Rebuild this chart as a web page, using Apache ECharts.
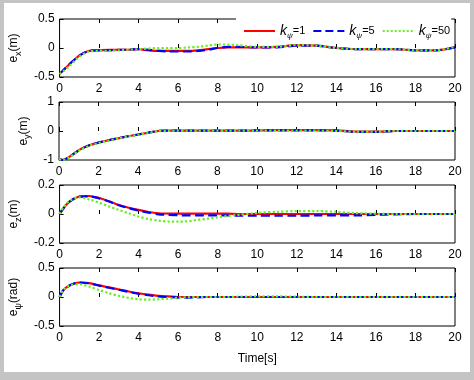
<!DOCTYPE html>
<html><head><meta charset="utf-8">
<script src="https://cdn.jsdelivr.net/npm/echarts@6/dist/echarts.min.js"></script>
<style>html,body{margin:0;padding:0;background:#c4c4c4;}#c{width:474px;height:380px;}</style>
</head><body><div id="c"></div>
<script>
// ---- data ----
const time = [0,0.2,0.5,1,1.5,2,2.5,3,3.5,4,4.5,5,5.5,6,6.5,7,7.5,8,8.5,9,10,11,12,13,14,15,16,17,18,19,20];
const seriesNames = ['kψ=1','kψ=5','kψ=50'];
const xTicks = [0,2,4,6,8,10,12,14,16,18,20];

const ex_k1  = [-0.45,-0.38,-0.28,-0.13,-0.05,-0.04,-0.03,-0.03,-0.03,-0.02,-0.04,-0.05,-0.05,-0.05,-0.05,-0.04,-0.02,0.0,0.01,0.01,0.01,0.02,0.05,0.04,0.0,-0.02,-0.02,-0.02,-0.04,-0.04,0.01];
const ex_k5  = [-0.45,-0.38,-0.28,-0.13,-0.05,-0.04,-0.04,-0.03,-0.03,-0.02,-0.03,-0.05,-0.06,-0.06,-0.06,-0.05,-0.03,0.0,0.02,0.02,0.01,0.01,0.04,0.04,0.0,-0.02,-0.02,-0.02,-0.04,-0.04,0.01];
const ex_k50 = [-0.45,-0.40,-0.31,-0.15,-0.06,-0.05,-0.05,-0.04,-0.03,-0.02,-0.01,0.0,0.0,0.0,0.01,0.02,0.04,0.06,0.06,0.05,0.02,0.02,0.05,0.04,0.0,-0.02,-0.02,-0.02,-0.04,-0.04,0.02];

const ey_k1  = [-0.97,-1.0,-0.9,-0.66,-0.5,-0.4,-0.32,-0.25,-0.18,-0.12,-0.06,0.0,0.01,0.01,0.01,0.01,0.01,0.01,0.01,0.01,0.02,0.03,0.03,0.03,0.02,-0.02,-0.02,0.0,0.0,0.0,0.0];
const ey_k5  = [-0.97,-1.0,-0.9,-0.67,-0.5,-0.4,-0.32,-0.25,-0.18,-0.12,-0.06,0.0,0.01,0.01,0.01,0.01,0.01,0.01,0.01,0.01,0.02,0.02,0.02,0.02,0.01,-0.03,-0.03,0.0,0.0,0.0,0.0];
const ey_k50 = [-0.97,-1.0,-0.92,-0.68,-0.52,-0.42,-0.33,-0.26,-0.19,-0.13,-0.07,-0.01,0.0,0.01,0.01,0.01,0.01,0.01,0.01,0.01,0.01,0.01,0.01,0.01,0.0,-0.02,-0.02,0.0,0.0,0.0,0.0];

const ez_k1  = [0,0.04,0.085,0.12,0.124,0.11,0.088,0.062,0.043,0.028,0.014,0.005,0.003,0.002,0.002,0.002,0.002,0.002,0.002,0.0,0.0,0.0,0.0,0.0,0.0,0.0,0.0,0.0,0.0,0.0,0.0];
const ez_k5  = [0,0.04,0.085,0.12,0.122,0.108,0.086,0.06,0.04,0.024,0.01,-0.002,-0.006,-0.008,-0.01,-0.01,-0.01,-0.01,-0.01,-0.012,-0.012,-0.012,-0.012,-0.01,-0.01,-0.01,-0.006,-0.002,0.0,0.0,0.0];
const ez_k50 = [0,0.045,0.09,0.115,0.1,0.078,0.052,0.028,0.005,-0.018,-0.035,-0.046,-0.052,-0.053,-0.05,-0.041,-0.032,-0.023,-0.014,-0.007,0.008,0.015,0.02,0.02,0.015,0.006,0.002,0.0,0.0,0.0,0.0];

const epsi_k1  = [0,0.12,0.2,0.25,0.24,0.2,0.165,0.13,0.095,0.065,0.04,0.02,0.01,0.0,0.0,0.0,0.0,0.0,0.0,0.0,0.0,0.0,0.0,0.0,0.0,0.0,0.0,0.0,0.0,0.0,0.0];
const epsi_k5  = [0,0.12,0.2,0.25,0.235,0.195,0.16,0.125,0.088,0.055,0.03,0.01,0.0,-0.01,-0.01,-0.005,0.0,0.0,0.0,0.0,0.0,0.0,0.0,0.0,0.0,0.0,0.0,0.0,0.0,0.0,0.0];
const epsi_k50 = [0,0.13,0.2,0.22,0.18,0.12,0.065,0.02,-0.015,-0.04,-0.045,-0.04,-0.028,-0.012,-0.004,0.0,0.0,0.0,0.0,0.005,0.01,0.01,0.005,0.0,0.0,0.0,0.0,0.0,0.0,0.0,0.0];

const panels = [
  {label:['e','x','(m)'],   min:-0.5, max:0.5, interval:0.5, data:[ex_k1,ex_k5,ex_k50]},
  {label:['e','y','(m)'],   min:-1,   max:1,   interval:1,   data:[ey_k1,ey_k5,ey_k50]},
  {label:['e','z','(m)'],   min:-0.2, max:0.2, interval:0.2, data:[ez_k1,ez_k5,ez_k50]},
  {label:['e','ψ','(rad)'], min:-0.5, max:0.5, interval:0.5, data:[epsi_k1,epsi_k5,epsi_k50]}
];

// ---- layout / style ----
const FONT = 'Liberation Sans';
const colors = ['#ff0000','#0000ff','#66ee22'];
const lineTypes = ['solid','dashed','dotted'];
const gridTop = [19,102,185,268];
const grids=[], xAxes=[], yAxes=[], series=[];
const fmtY = v => { const r = Math.round(v*1000)/1000; return r===0 ? '0' : String(r); };
panels.forEach((p,i)=>{
  grids.push({left:59, width:396, top:gridTop[i], height:58, show:true, borderColor:'#000', borderWidth:1, backgroundColor:'transparent'});
  xAxes.push({type:'value', gridIndex:i, min:0, max:20, interval:2, position:'bottom',
    axisLine:{show:false}, splitLine:{show:false},
    axisTick:{inside:true, length:4, lineStyle:{color:'#000'}},
    axisLabel:{color:'#000', fontFamily:FONT, fontSize:12, margin:6},
    name: i===3 ? 'Time[s]' : '', nameLocation:'middle', nameGap:27,
    nameTextStyle:{color:'#000', fontFamily:FONT, fontSize:12}});
  xAxes.push({type:'value', gridIndex:i, min:0, max:20, interval:2, position:'top',
    axisLine:{show:false}, splitLine:{show:false}, axisLabel:{show:false},
    axisTick:{inside:true, length:4, lineStyle:{color:'#000'}}});
  yAxes.push({type:'value', gridIndex:i, min:p.min, max:p.max, interval:p.interval,
    axisLine:{show:false}, splitLine:{show:false},
    axisTick:{inside:true, length:4, lineStyle:{color:'#000'}},
    axisLabel:{color:'#000', fontFamily:FONT, fontSize:12, margin:5, formatter:fmtY},
    name:'{a|'+p.label[0]+'}{b|'+p.label[1]+'}{a|'+p.label[2]+'}',
    nameLocation:'middle', nameRotate:90, nameGap:21,
    nameTextStyle:{rich:{
      a:{fontFamily:FONT, fontSize:12, color:'#000', lineHeight:18, verticalAlign:'middle'},
      b:{fontFamily:FONT, fontSize:9, color:'#000', lineHeight:10, verticalAlign:'bottom'}
    }}});
  p.data.forEach((arr,k)=>{
    series.push({type:'line', name:seriesNames[k], xAxisIndex:2*i, yAxisIndex:i,
      data: time.map((t,j)=>[t,arr[j]]), symbol:'none', smooth:0.3,
      lineStyle:{color:colors[k], width:2.2, type:lineTypes[k]}, itemStyle:{color:colors[k]},
      z: 2+k, animation:false});
  });
});

const option = {
  animation:false,
  backgroundColor:'transparent',
  graphic:[{type:'rect', z:-100, silent:true, shape:{x:4,y:3,width:466,height:369}, style:{fill:'#fff'}}],
  grid:grids, xAxis:xAxes, yAxis:yAxes, series:series,
  legend:{
    data:seriesNames, left:236, top:16, width:218, orient:'horizontal',
    backgroundColor:'#fff', padding:[8,1,0,7], itemGap:7, itemWidth:31, itemHeight:12,
    z:10, itemStyle:{opacity:0},
    formatter: n => { const v=n.split('=')[1]; return '{k|k}{s|ψ}{n|='+v+'}'; },
    textStyle:{rich:{
      k:{fontFamily:FONT, fontStyle:'italic', fontSize:14, color:'#000', lineHeight:18, verticalAlign:'middle'},
      s:{fontFamily:FONT, fontStyle:'italic', fontSize:8, color:'#000', lineHeight:9, verticalAlign:'bottom'},
      n:{fontFamily:FONT, fontSize:11, color:'#000', lineHeight:18, verticalAlign:'middle'}
    }}
  }
};
const chart = echarts.init(document.getElementById('c'), null, {renderer:'canvas'});
chart.setOption(option);
</script></body></html>
